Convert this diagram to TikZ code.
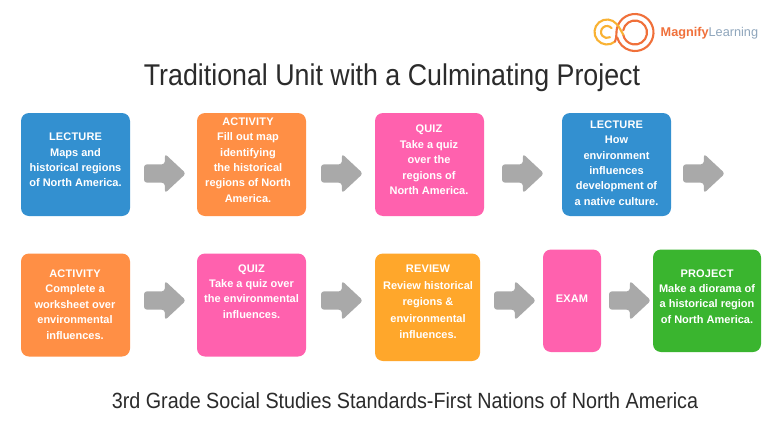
\documentclass[tikz,border=0pt]{standalone}
\usepackage{fontspec}
\setmainfont{Liberation Sans}
\newfontfamily\titlefont[FakeStretch=0.893]{Liberation Sans}
\newfontfamily\subtitlefont[FakeStretch=0.898]{Liberation Sans}
\usetikzlibrary{shapes.arrows}
\definecolor{cblue}{HTML}{3390D0}
\definecolor{corange}{HTML}{FF8F45}
\definecolor{cpink}{HTML}{FF61AE}
\definecolor{camber}{HTML}{FFA72B}
\definecolor{cgreen}{HTML}{3AB52F}
\definecolor{cgray}{HTML}{A9A9A9}
\definecolor{ttl}{HTML}{2B2B2B}
\definecolor{logoo}{HTML}{F0703A}
\definecolor{logoy}{HTML}{F9B233}
\definecolor{logog}{HTML}{8FA6BC}
\tikzset{
  card/.style={rounded corners=8pt,inner sep=0pt,outer sep=0pt},
  cardtext/.style={text=white,align=center,inner sep=0pt,font=\fontsize{11}{15.4}\selectfont\bfseries},
  blockarrow/.style={single arrow,fill=cgray,draw=none,rounded corners=3pt,minimum height=42pt,minimum width=39pt,single arrow head extend=10.5pt,single arrow tip angle=86,inner sep=0pt,outer sep=0pt,anchor=west},
  titletext/.style={text=ttl,inner sep=0pt},
  logostrand/.style={line width=2.1pt,line cap=round},
}
\newcommand{\hd}[1]{{\addfontfeature{LetterSpace=1.5}#1}}
\newcommand{\shaft}{\rule{0pt}{18pt}}
% colour, cx, cy, r, display angle from, display angle to
\newcommand{\ringarc}[6]{\draw[logostrand,#1] (#2,#3) ++({-(#5)}:#4) arc ({-(#5)}:{-(#6)}:#4);}
\begin{document}
\begin{tikzpicture}[x=1pt,y=-1pt]
\useasboundingbox (0,0) rectangle (768,431);
\fill[white] (0,0) rectangle (768,431);
% logo
\ringarc{logoy}{607}{32}{12.5}{40}{310}
\ringarc{logoy}{607}{32}{6}{40}{300}
\ringarc{logoo}{635}{32.5}{18.5}{165}{-165}
\ringarc{logoo}{635}{32.5}{12}{170}{-170}
\draw[logostrand,logoy] (616.6,24) .. controls (620,28) and (621,31) .. (623.2,34.6);
\draw[logostrand,logoo] (617,27.7) .. controls (616,32) and (617,37) .. (615,41.6);
\node[inner sep=0pt,anchor=west,font=\fontsize{12.7}{13}\selectfont] (logotext) at (660.5,33) {\textcolor{logoo}{\textbf{Magnify}}\textcolor{logog}{Learning}};
% title
\node[titletext,font=\titlefont\fontsize{30}{31}\selectfont] (title) at (392,77.5) {Traditional Unit with a Culminating Project};
\node[titletext,font=\subtitlefont\fontsize{22}{24}\selectfont] (subtitle) at (405,401) {3rd Grade Social Studies Standards-First Nations of North America};
% row 1
\node[card,fill=cblue,minimum width=109pt,minimum height=103pt] (b1) at (75.5,164.5) {};
\node[card,fill=corange,minimum width=109pt,minimum height=103pt] (b2) at (251.5,164.5) {};
\node[card,fill=cpink,minimum width=109pt,minimum height=103pt] (b3) at (429.5,164.5) {};
\node[card,fill=cblue,minimum width=109pt,minimum height=103pt] (b4) at (616.5,164.5) {};
% row 2
\node[card,fill=corange,minimum width=109pt,minimum height=103pt] (b5) at (75.5,305) {};
\node[card,fill=cpink,minimum width=109pt,minimum height=103pt] (b6) at (251.5,305) {};
\node[card,fill=camber,minimum width=105pt,minimum height=107.5pt] (b7) at (427.5,307.25) {};
\node[card,fill=cpink,minimum width=58pt,minimum height=102.5pt] (b8) at (572,300.75) {};
\node[card,fill=cgreen,minimum width=108pt,minimum height=102.5pt] (b9) at (707,300.75) {};
% texts
\node[cardtext] (t1) at (75.5,160) {\hd{LECTURE}\\Maps and\\historical regions\\of North America.};
\node[cardtext] (t2) at (248,160) {\hd{ACTIVITY}\\Fill out map\\identifying\\the historical\\regions of North\\America.};
\node[cardtext] (t3) at (429,160) {\hd{QUIZ}\\Take a quiz\\over the\\regions of\\North America.};
\node[cardtext] (t4) at (616.5,163) {\hd{LECTURE}\\How\\environment\\influences\\development of\\a native culture.};
\node[cardtext] (t5) at (75,304.5) {\hd{ACTIVITY}\\Complete a\\worksheet over\\environmental\\influences.};
\node[cardtext] (t6) at (251.5,291.5) {\hd{QUIZ}\\Take a quiz over\\the environmental\\influences.};
\node[cardtext,font=\fontsize{11}{16.4}\selectfont\bfseries] (t7) at (428,302) {\hd{REVIEW}\\Review historical\\regions \&\\environmental\\influences.};
\node[cardtext] (t8) at (572,299) {\hd{EXAM}};
\node[cardtext] (t9) at (707,296.5) {\hd{PROJECT}\\Make a diorama of\\a historical region\\of North America.};
% arrows
\node[blockarrow] (a1) at (144,173.5) {\shaft};
\node[blockarrow] (a2) at (321,173.5) {\shaft};
\node[blockarrow] (a3) at (502,173.5) {\shaft};
\node[blockarrow] (a4) at (683,173.5) {\shaft};
\node[blockarrow] (a5) at (144,300.5) {\shaft};
\node[blockarrow] (a6) at (321,300.5) {\shaft};
\node[blockarrow] (a7) at (494,300.5) {\shaft};
\node[blockarrow] (a8) at (609,300.5) {\shaft};
\end{tikzpicture}
\end{document}
